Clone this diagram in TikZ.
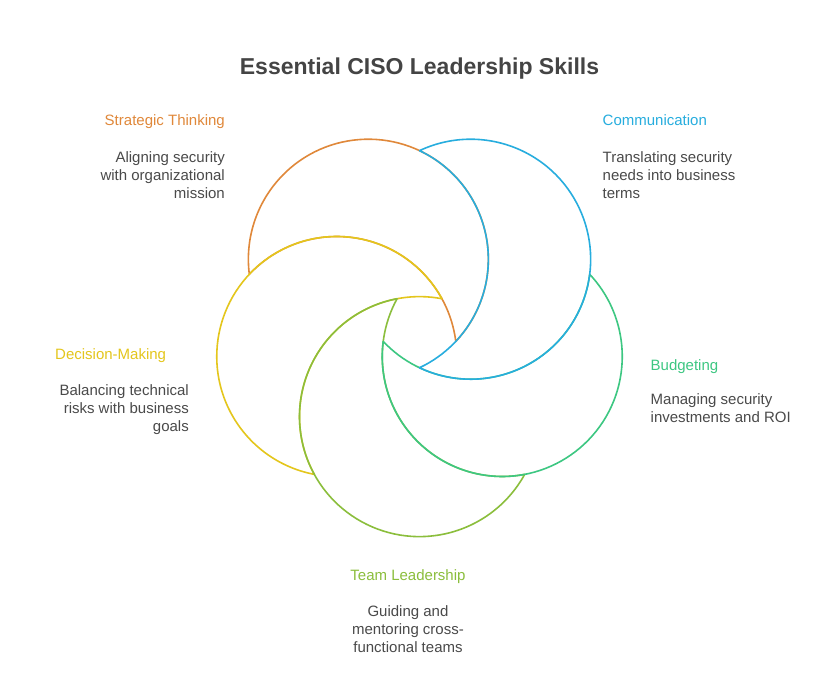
\documentclass[tikz,border=0pt]{standalone}
\usepackage{fontspec}
\setmainfont{Liberation Sans}
\usepackage{xcolor}
\usetikzlibrary{calc}

\definecolor{stratorange}{HTML}{E0883A}
\definecolor{commblue}{HTML}{27ADDE}
\definecolor{budgetgreen}{HTML}{3DC782}
\definecolor{teamgreen}{HTML}{8BBE3C}
\definecolor{decyellow}{HTML}{E4C61C}
\definecolor{textgray}{HTML}{4A4A4A}
\definecolor{titlegray}{HTML}{444444}

\begin{document}
\begin{tikzpicture}[
    x=1pt, y=1pt,
    font=\fontsize{15}{18}\selectfont,
    petal/.style={line width=1.6pt, line join=round},
    heading/.style={inner sep=0pt},
    note/.style={inner sep=0pt, text=textgray},
    titletext/.style={inner sep=0pt, text=titlegray, font=\bfseries\fontsize{23}{28}\selectfont}
]
    \useasboundingbox[fill=white] (0,0) rectangle (840,672);
    \coordinate (mid) at (419.5,342.4);

    % Petals, each one drawn over the one before it
    \foreach \ang/\col [evaluate=\ang as \sa using \ang-169.23,
                        evaluate=\ang as \sb using \ang+10.77]
        in {126/stratorange, 198/decyellow, 270/teamgreen, 342/budgetgreen, 54/commblue}
        \draw[petal, draw=\col] ($(mid)+(\ang:87pt)+(\sa:120pt)$)
            arc[start angle=\sa, delta angle=230.46, radius=120pt]
            arc[start angle=\sb, delta angle=-129.54, radius=120pt] -- cycle;

    % Title
    \node[titletext, anchor=base] (title) at (419.5,597) {Essential CISO Leadership Skills};

    % Skills (notes are anchored on their last line)
    \node[heading, text=stratorange, anchor=base east] (strat) at (225,546) {Strategic Thinking};
    \node[note, align=right, anchor=base east] (stratnote) at (225,473.5) {Aligning security\\with organizational\\mission};

    \node[heading, text=commblue, anchor=base west] (comm) at (602.5,546) {Communication};
    \node[note, align=left, anchor=base west] (commnote) at (602.5,473.5) {Translating security\\needs into business\\terms};

    \node[heading, text=decyellow, anchor=base west] (dec) at (55,312.5) {Decision-Making};
    \node[note, align=right, anchor=base east] (decnote) at (189,240) {Balancing technical\\risks with business\\goals};

    \node[heading, text=budgetgreen, anchor=base west] (budget) at (650.5,301.3) {Budgeting};
    \node[note, align=left, anchor=base west] (budgetnote) at (650.5,249) {Managing security\\investments and ROI};

    \node[heading, text=teamgreen, anchor=base] (team) at (408,91.3) {Team Leadership};
    \node[note, align=center, anchor=base] (teamnote) at (408,20) {Guiding and\\mentoring cross-\\functional teams};
\end{tikzpicture}
\end{document}
